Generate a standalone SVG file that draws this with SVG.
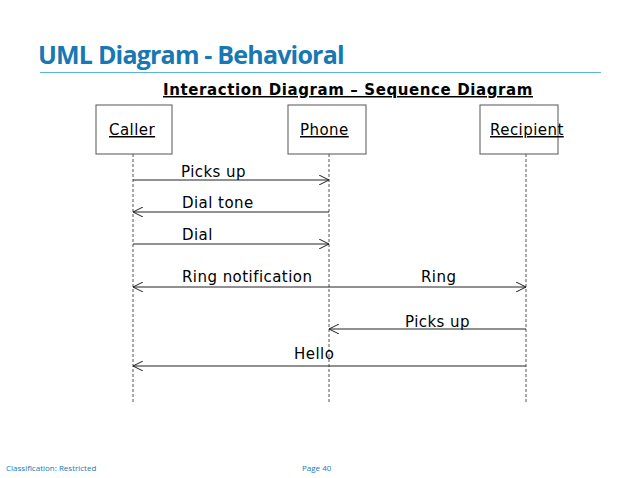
<svg xmlns="http://www.w3.org/2000/svg" width="638" height="478" viewBox="0 0 638 478">
<style>
.t{font-family:"DejaVu Sans",sans-serif;font-size:15px;fill:#000;letter-spacing:0.45px}
.u{text-decoration:underline}
.box{fill:#fff;stroke:#555;stroke-width:1}
.life{stroke:#555;stroke-width:1;stroke-dasharray:3,2}
.msg{stroke:#222;stroke-width:1;fill:none}
</style>
<defs>
<marker id="a" viewBox="0 0 10 10" refX="10" refY="5" markerWidth="10" markerHeight="10" markerUnits="userSpaceOnUse" orient="auto-start-reverse"><path d="M0,0 L10,5 L0,10" fill="none" stroke="#222" stroke-width="1"/></marker>
</defs>
<rect width="638" height="478" fill="#fff"/>
<text x="38" y="64" font-family="'Open Sans','Liberation Sans',sans-serif" font-weight="bold" font-size="25" fill="#1778b4" letter-spacing="-0.8">UML Diagram - Behavioral</text>
<line x1="40" y1="72.5" x2="601" y2="72.5" stroke="#5ab4dd" stroke-width="1"/>
<text x="348" y="95" text-anchor="middle" font-family="'DejaVu Sans',sans-serif" font-weight="bold" font-size="15" letter-spacing="0.6" class="u">Interaction Diagram – Sequence Diagram</text>
<g id="lifelines">
<line class="life" x1="133" y1="154" x2="133" y2="402"/>
<line class="life" x1="329" y1="154" x2="329" y2="402"/>
<line class="life" x1="526" y1="154" x2="526" y2="402"/>
</g>
<g id="caller"><rect class="box" x="96" y="105" width="76" height="49"/><text class="t u" x="109" y="135">Caller</text></g>
<g id="phone"><rect class="box" x="288" y="105" width="78" height="49"/><text class="t u" x="300" y="135">Phone</text></g>
<g id="recipient"><rect class="box" x="480" y="105" width="78" height="49"/><text class="t u" x="490" y="135">Recipient</text></g>
<g id="connectors">
<line class="msg" x1="133" y1="180" x2="329" y2="180" marker-end="url(#a)"/>
<line class="msg" x1="329" y1="212" x2="133" y2="212" marker-end="url(#a)"/>
<line class="msg" x1="133" y1="244" x2="329" y2="244" marker-end="url(#a)"/>
<line class="msg" x1="133" y1="287" x2="526" y2="287" marker-start="url(#a)" marker-end="url(#a)"/>
<line class="msg" x1="526" y1="329" x2="329" y2="329" marker-end="url(#a)"/>
<line class="msg" x1="526" y1="366" x2="133" y2="366" marker-end="url(#a)"/>
<text class="t" x="181" y="177">Picks up</text>
<text class="t" x="182" y="208">Dial tone</text>
<text class="t" x="182" y="240">Dial</text>
<text class="t" x="182" y="282">Ring notification</text>
<text class="t" x="421" y="282">Ring</text>
<text class="t" x="405" y="327">Picks up</text>
<text class="t" x="294" y="359">Hello</text>
</g>
<text x="6" y="471" font-family="'Open Sans','Liberation Sans',sans-serif" font-size="8" fill="#1778b4">Classification: Restricted</text>
<text x="302" y="471" font-family="'Open Sans','Liberation Sans',sans-serif" font-size="8" fill="#1778b4">Page 40</text>
</svg>
